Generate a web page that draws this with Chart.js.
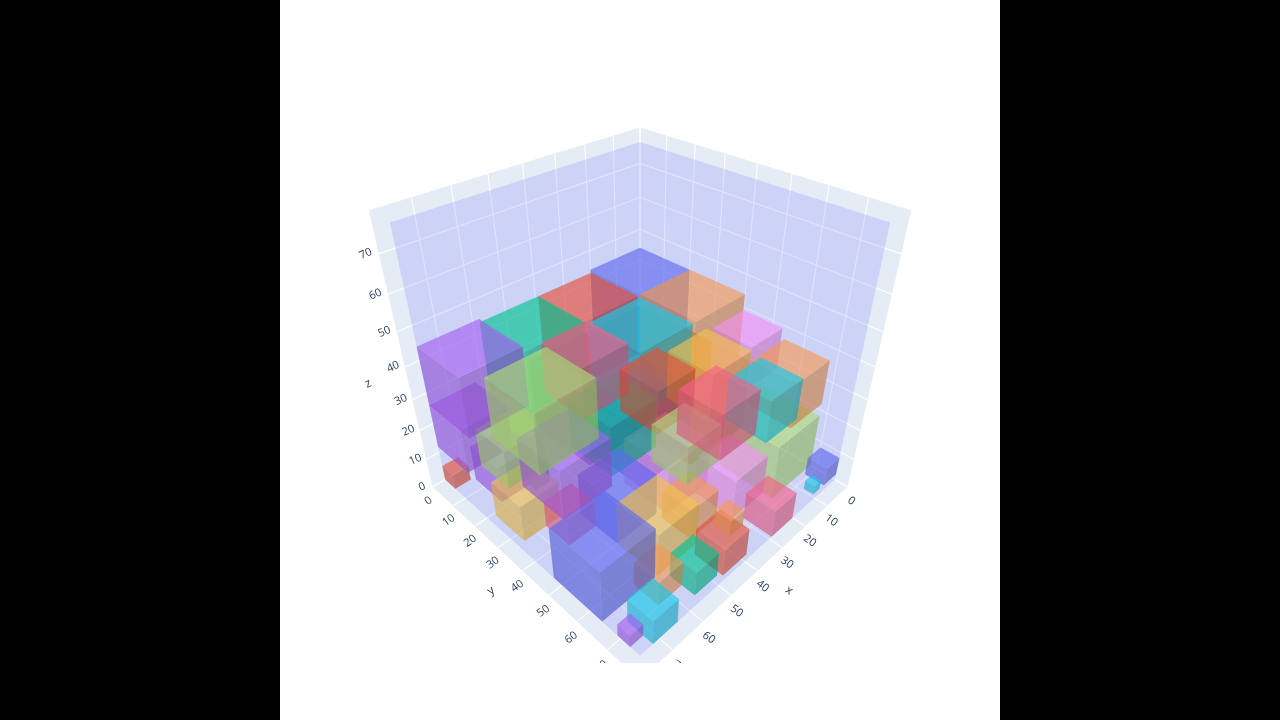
<!DOCTYPE html>
<html>
<head>
<meta charset="utf-8">
<script src="https://cdn.jsdelivr.net/npm/chart.js@4.4.1/dist/chart.umd.min.js"></script>
<style>
  html,body{margin:0;padding:0;background:#000;width:1280px;height:720px;overflow:hidden;}
  #sheet{position:absolute;left:280px;top:0;width:720px;height:720px;background:#fff;}
  #plot{position:absolute;left:0;top:0;width:720px;height:663px;}
</style>
</head>
<body>
<div id="sheet"><div id="plot"><canvas id="chart"></canvas></div></div>
<script>
/* scene setup - axis range 0..80 on every axis, bin 76 */
const AXIS_MAX = 80;
const BIN_SIZE = 76;
const TICKS = [0, 10, 20, 30, 40, 50, 60, 70];
const PALETTE = ['#636EFA','#EF553B','#00CC96','#AB63FA','#FFA15A','#19D3F3','#FF6692','#B6E880','#FF97FF','#FECB52'];

/* cubes: corner x, y, z, edge length, palette index */
const cubeX     = [ 0, 20, 39, 58,  0, 20, 39, 54,  0, 13, 30,  0, 10, 22, 35, 52, 38,  0, 20,  0, 20, 62, 58, 71, 56, 60, 62, 58, 44, 44, 59, 26, 31, 18, 34,  0, 20, 38, 38, 48, 56, 64, 72,  0,  6];
const cubeY     = [ 0,  0,  0,  0, 20, 20, 20, 22, 40, 38, 36, 54, 54, 49, 25, 26,  0,  0,  0, 20, 20,  0,  6,  0, 16, 14, 21, 33, 36, 50, 47, 36, 47, 52, 52, 50, 67, 66, 68, 66, 62, 68, 69, 70, 72];
const cubeZ     = [24, 24, 24, 26, 24, 24, 29, 26, 26, 23, 26, 22, 22, 22, 12, 10,  4,  0,  0,  0,  0, 12,  0,  0,  0, 12,  0,  0,  0,  0,  0,  0, 16,  0,  0,  0,  0,  0,  9,  0,  0,  0,  0,  2,  0];
const cubeSize  = [20, 19, 19, 18, 20, 19, 15, 18, 13, 15, 13, 14, 13, 14, 16, 16, 20, 24, 24, 24, 20, 14, 12,  5,  5, 12, 12,  9, 14, 14, 17, 16, 12, 13, 10, 18,  9,  9,  5,  8,  8,  8,  4,  6,  3];
const cubeColor = [ 0,  1,  2,  3,  4,  5,  6,  7,  8,  9,  1,  4,  5,  6,  2,  3,  7,  2,  3,  1,  0,  3,  3,  1,  2,  7,  9,  6,  0,  9,  0,  8,  7,  8,  4,  7,  6,  1,  4,  2,  4,  5,  3,  0,  5];

/* look */
const FRONT_ALPHA = 0.6, BACK_ALPHA = 0.12;
const SHADE_TOP = 0.97, SHADE_XFACE = 0.86, SHADE_YFACE = 0.78, SHADE_BACK = 0.8;
const PANEL_BG = '#E5ECF6';
const BIN_TINT = 'rgba(99,104,250,0.19)';
const GRID_COLOR = 'rgba(255,255,255,0.9)';

/* camera (plotly-like perspective, eye on the diagonal) */
const EYE = [2.5, 2.5, 2.5];
const FOCAL = 720, CX = 360, CY = 367;

function dot(a,b){ return a[0]*b[0]+a[1]*b[1]+a[2]*b[2]; }
function cross(a,b){ return [a[1]*b[2]-a[2]*b[1], a[2]*b[0]-a[0]*b[2], a[0]*b[1]-a[1]*b[0]]; }
function unit(v){ const l=Math.hypot(v[0],v[1],v[2]); return v.map(a=>a/l); }
const FW = unit(EYE.map(v=>-v));
const RT = unit(cross(FW,[0,0,1]));
const UP = cross(RT,FW);

function proj(x,y,z){
  const h = AXIS_MAX/2;
  const d = [x/h-1-EYE[0], y/h-1-EYE[1], z/h-1-EYE[2]];
  const dep = dot(d,FW);
  return {x: CX + FOCAL*dot(d,RT)/dep, y: CY - FOCAL*dot(d,UP)/dep, depth: dep};
}

function rgba(hex, shade, a){
  const n = parseInt(hex.slice(1),16);
  const r = Math.round(((n>>16)&255)*shade), g = Math.round(((n>>8)&255)*shade), b = Math.round((n&255)*shade);
  return `rgba(${r},${g},${b},${a})`;
}

function polyDataset(pts3, color){
  return {
    data: pts3.map(p=>{ const q=proj(p[0],p[1],p[2]); return {x:q.x, y:q.y}; }),
    showLine: true, fill: 'shape', backgroundColor: color,
    borderColor: 'rgba(0,0,0,0)', borderWidth: 0, pointRadius: 0, tension: 0
  };
}
function lineDataset(a, b, color, w){
  const p = proj(...a), q = proj(...b);
  return { data: [{x:p.x,y:p.y},{x:q.x,y:q.y}], showLine: true, fill: false,
    borderColor: color, borderWidth: w, pointRadius: 0, tension: 0 };
}

/* build back-to-front list */
const layers = [];
const M = AXIS_MAX;
// axis background panels
layers.push(polyDataset([[0,0,0],[M,0,0],[M,M,0],[0,M,0]], PANEL_BG));
layers.push(polyDataset([[0,0,0],[M,0,0],[M,0,M],[0,0,M]], PANEL_BG));
layers.push(polyDataset([[0,0,0],[0,M,0],[0,M,M],[0,0,M]], PANEL_BG));
// grid lines
TICKS.forEach(t=>{
  layers.push(lineDataset([t,0,0],[t,M,0],GRID_COLOR,1.2));
  layers.push(lineDataset([0,t,0],[M,t,0],GRID_COLOR,1.2));
  layers.push(lineDataset([t,0,0],[t,0,M],GRID_COLOR,1.2));
  layers.push(lineDataset([0,0,t],[M,0,t],GRID_COLOR,1.2));
  layers.push(lineDataset([0,t,0],[0,t,M],GRID_COLOR,1.2));
  layers.push(lineDataset([0,0,t],[0,M,t],GRID_COLOR,1.2));
});
// bin walls
const B = BIN_SIZE;
layers.push(polyDataset([[0,0,0],[B,0,0],[B,B,0],[0,B,0]], BIN_TINT));
layers.push(polyDataset([[0,0,0],[B,0,0],[B,0,B],[0,0,B]], BIN_TINT));
layers.push(polyDataset([[0,0,0],[0,B,0],[0,B,B],[0,0,B]], BIN_TINT));

// cubes sorted far to near, hidden faces faint, visible faces stronger
const order = cubeX.map((_,i)=>i).sort((a,b)=>{
  const da = proj(cubeX[a]+cubeSize[a]/2, cubeY[a]+cubeSize[a]/2, cubeZ[a]+cubeSize[a]/2).depth;
  const db = proj(cubeX[b]+cubeSize[b]/2, cubeY[b]+cubeSize[b]/2, cubeZ[b]+cubeSize[b]/2).depth;
  return db - da;
});
order.forEach(i=>{
  const x=cubeX[i], y=cubeY[i], z=cubeZ[i], s=cubeSize[i], c=PALETTE[cubeColor[i]];
  const x1=x+s, y1=y+s, z1=z+s;
  const back = rgba(c,SHADE_BACK,BACK_ALPHA);
  layers.push(polyDataset([[x,y,z],[x1,y,z],[x1,y1,z],[x,y1,z]], back));
  layers.push(polyDataset([[x,y,z],[x,y1,z],[x,y1,z1],[x,y,z1]], back));
  layers.push(polyDataset([[x,y,z],[x1,y,z],[x1,y,z1],[x,y,z1]], back));
  layers.push(polyDataset([[x1,y,z],[x1,y1,z],[x1,y1,z1],[x1,y,z1]], rgba(c,SHADE_XFACE,FRONT_ALPHA)));
  layers.push(polyDataset([[x,y1,z],[x1,y1,z],[x1,y1,z1],[x,y1,z1]], rgba(c,SHADE_YFACE,FRONT_ALPHA)));
  layers.push(polyDataset([[x,y,z1],[x1,y,z1],[x1,y1,z1],[x,y1,z1]], rgba(c,SHADE_TOP,FRONT_ALPHA)));
});
const datasets = layers.reverse(); // first dataset is drawn on top

/* tick labels and titles, placed in 3D and drawn through the scales */
const labels = [];
TICKS.forEach(t=>{
  labels.push({p:[82,t,-4], text:String(t), rot:-0.62, size:11});
  labels.push({p:[t,82,-4], text:String(t), rot:0.62, size:11});
  labels.push({p:[82,-2,t], text:String(t), rot:-0.42, size:11});
});
labels.push({p:[88,38,-2], text:'y', rot:-0.62, size:12});
labels.push({p:[38,88,-2], text:'x', rot:0.62, size:12});
labels.push({p:[87,-7,35], text:'z', rot:-0.42, size:12});

const axisText = {
  id: 'axisText',
  afterDatasetsDraw(chart){
    const {ctx, scales} = chart;
    ctx.save();
    ctx.fillStyle = '#2a3f5f';
    ctx.textAlign = 'center';
    ctx.textBaseline = 'middle';
    labels.forEach(l=>{
      const q = proj(...l.p);
      const px = scales.x.getPixelForValue(q.x), py = scales.y.getPixelForValue(q.y);
      ctx.save();
      ctx.translate(px, py);
      ctx.rotate(l.rot);
      ctx.font = `${l.size}px "Open Sans", sans-serif`;
      ctx.fillText(l.text, 0, 0);
      ctx.restore();
    });
    ctx.restore();
  }
};

new Chart(document.getElementById('chart'), {
  type: 'scatter',
  data: { datasets },
  options: {
    responsive: true, maintainAspectRatio: false, animation: false,
    layout: { padding: 0 },
    scales: {
      x: { type:'linear', min:0, max:720, display:false },
      y: { type:'linear', min:0, max:663, reverse:true, display:false }
    },
    plugins: { legend:{display:false}, tooltip:{enabled:false} },
    events: []
  },
  plugins: [axisText]
});
</script>
</body>
</html>
